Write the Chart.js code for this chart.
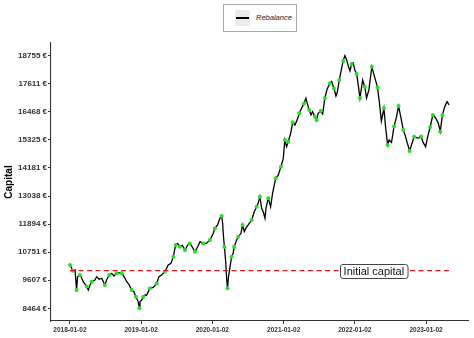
<!DOCTYPE html>
<html>
<head>
<meta charset="utf-8">
<script src="https://cdn.jsdelivr.net/npm/chart.js@4/dist/chart.umd.min.js"></script>
<style>
  body { margin: 0; background: #fff; font-family: "Liberation Sans", Arial, sans-serif; }
  #wrap { position: relative; width: 474px; height: 338px; }
  #legend {
    position: absolute; left: 223px; top: 4px; width: 72px; height: 26px;
    border: 1px solid #a8a8a8; background: #fff; box-sizing: content-box;
  }
  #legend .key {
    position: absolute; left: 11px; top: 5px; width: 15px; height: 16px; background: #ebebeb;
  }
  #legend .key::after {
    content: ""; position: absolute; left: 1px; right: 1px; top: 7px; height: 1.5px; background: #000;
  }
  #legend .txt {
    position: absolute; left: 32px; top: 8px; font-size: 7.5px; font-style: italic; color: #1a1a1a;
    line-height: 10px;
  }
</style>
</head>
<body>
<div id="wrap">
  <canvas id="myChart" width="474" height="338"></canvas>
  <div id="legend"><div class="key"></div><div class="txt">Rebalance</div></div>
</div>
<script>
'use strict';

// portfolio value, sampled roughly every two weeks
let dates = [
  '2018-01-02','2018-01-07','2018-01-16','2018-01-28','2018-02-05','2018-02-10','2018-02-22','2018-03-03',
  '2018-03-11','2018-03-29','2018-04-06','2018-04-15','2018-04-23','2018-05-10','2018-05-19','2018-06-01',
  '2018-06-14','2018-06-30','2018-07-09','2018-07-22','2018-08-04','2018-08-16','2018-08-29','2018-09-12',
  '2018-09-24','2018-10-07','2018-10-20','2018-11-02','2018-11-14','2018-11-26','2018-12-06','2018-12-18',
  '2018-12-24','2018-12-27','2019-01-05','2019-01-13','2019-01-22','2019-01-30','2019-02-16','2019-03-05',
  '2019-03-23','2019-04-03','2019-04-17','2019-05-04','2019-05-21','2019-06-04','2019-06-16','2019-06-28',
  '2019-07-08','2019-07-20','2019-08-01','2019-08-15','2019-08-28','2019-09-09','2019-09-21','2019-10-05',
  '2019-10-19','2019-10-31','2019-11-16','2019-12-04','2019-12-21','2020-01-07','2020-01-15','2020-01-29',
  '2020-02-10','2020-02-19','2020-02-24','2020-02-27','2020-03-04','2020-03-10','2020-03-16','2020-03-20',
  '2020-03-25','2020-04-01','2020-04-10','2020-04-18','2020-04-23','2020-05-06','2020-05-14','2020-05-28',
  '2020-06-05','2020-06-14','2020-06-22','2020-07-04','2020-07-22','2020-08-04','2020-08-16','2020-08-24',
  '2020-09-02','2020-09-11','2020-09-19','2020-09-28','2020-10-03','2020-10-15','2020-10-27','2020-11-06',
  '2020-11-22','2020-12-05','2020-12-19','2020-12-31','2021-01-08','2021-01-17','2021-01-25','2021-02-07',
  '2021-02-17','2021-03-01','2021-03-12','2021-03-23','2021-04-04','2021-04-16','2021-04-26','2021-05-03',
  '2021-05-13','2021-05-22','2021-05-30','2021-06-11','2021-06-20','2021-06-28','2021-07-10','2021-07-21',
  '2021-08-01','2021-08-13','2021-08-27','2021-09-05','2021-09-17','2021-09-27','2021-10-04','2021-10-14',
  '2021-10-26','2021-11-03','2021-11-12','2021-11-21','2021-11-29','2021-12-08','2021-12-16','2021-12-24',
  '2022-01-02','2022-01-11','2022-01-20','2022-01-28','2022-02-11','2022-02-22','2022-03-03','2022-03-15',
  '2022-03-30','2022-04-15','2022-04-28','2022-05-08','2022-05-18','2022-05-31','2022-06-08','2022-06-19',
  '2022-06-27','2022-07-09','2022-07-22','2022-08-04','2022-08-14','2022-08-26','2022-09-07','2022-09-18',
  '2022-09-28','2022-10-10','2022-10-21','2022-11-02','2022-11-15','2022-11-26','2022-12-08','2022-12-18',
  '2022-12-31','2023-01-10','2023-01-23','2023-02-06','2023-02-20','2023-03-06','2023-03-16','2023-03-27',
  '2023-04-09','2023-04-20','2023-04-30'
];

let capital = [
  10230,10160,10000,10030,9210,9750,9820,9700,
  9550,9350,9210,9420,9550,9620,9750,9650,
  9690,9420,9620,9820,9890,9780,9890,9920,
  9890,9750,9550,9420,9210,9140,8940,8740,
  8464,8740,8800,8940,9010,9000,9280,9320,
  9480,9750,9820,9960,10230,10300,10570,11040,
  11110,10970,11040,10840,11040,11110,10970,10770,
  10970,11180,11110,11120,11250,11520,11720,11860,
  12130,12230,11930,11520,10970,10430,9620,9280,
  9750,10100,10570,10710,10970,11250,11380,11520,
  11860,11590,11720,11860,12060,12400,12600,12740,
  13010,12540,12400,12130,12540,12950,12600,13150,
  13760,13890,14230,14570,15320,15050,15250,15590,
  16040,15930,16130,16410,16610,16810,17020,16810,
  16540,16340,16470,16270,16130,16410,16500,16380,
  17020,17400,17630,17700,17420,17110,17270,17760,
  18240,18540,18755,18580,18330,18130,18410,18460,
  18170,18010,17520,17030,17760,17480,17030,17360,
  18300,17840,17460,16830,16090,16610,15890,15120,
  15320,15220,15870,16280,16700,16240,15730,15480,
  15190,14870,15160,15450,15420,15400,15460,15220,
  15050,15440,15850,16340,16220,16000,15660,16340,
  16700,16880,16750
];

let rebalanceDates = [
  '2018-01-02','2018-01-16','2018-02-05','2018-02-22','2018-03-29','2018-04-23','2018-06-30','2018-07-22',
  '2018-08-29','2018-09-24','2018-11-14','2018-12-06','2018-12-24','2019-01-13','2019-02-16','2019-03-23',
  '2019-05-04','2019-06-16','2019-06-28','2019-07-20','2019-08-15','2019-09-09','2019-10-05','2019-11-16',
  '2019-12-21','2020-01-15','2020-02-19','2020-03-04','2020-03-20','2020-04-10','2020-04-23','2020-05-14',
  '2020-06-05','2020-07-22','2020-08-16','2020-09-02','2020-10-15','2020-11-22','2020-12-19','2021-01-08',
  '2021-01-25','2021-02-17','2021-03-23','2021-04-16','2021-05-13','2021-06-11','2021-06-20','2021-07-10',
  '2021-08-01','2021-08-27','2021-09-17','2021-10-14','2021-11-03','2021-12-16','2022-01-11','2022-01-28',
  '2022-02-22','2022-03-30','2022-04-28','2022-05-31','2022-06-19','2022-07-22','2022-08-14','2022-09-07',
  '2022-10-10','2022-11-02','2022-12-08','2023-01-23','2023-02-06','2023-03-16','2023-03-27'
];

let yTicks = [8464, 9607, 10751, 11894, 13038, 14181, 15325, 16468, 17611, 18755];
let xTicks = ['2018-01-02', '2019-01-02', '2020-01-02', '2021-01-02', '2022-01-02', '2023-01-02'];

let initialCapital = 10000;
let initialLabel = 'Initial capital';
let initialLabelDate = '2022-04-07';

function createChart() {

    let pts = dates.map((d, i) => ({ x: Date.parse(d), y: capital[i] }));
    let rebal = rebalanceDates.map(d => ({ x: Date.parse(d), y: capital[dates.indexOf(d)] }));

    // 5% expansion on both axes
    let x0 = pts[0].x, x1 = pts[pts.length - 1].x;
    let xPad = (x1 - x0) * 0.05;
    let y0 = yTicks[0], y1 = yTicks[yTicks.length - 1];
    let yPad = (y1 - y0) * 0.05;

    // boxed label sitting on the dashed line
    let hlineLabel = {
        id: 'hlineLabel',
        afterDatasetsDraw(chart) {
            let ctx = chart.ctx;
            let cx = chart.scales.x.getPixelForValue(Date.parse(initialLabelDate));
            let cy = chart.scales.y.getPixelForValue(initialCapital);
            ctx.save();
            ctx.font = '11px "Liberation Sans", Arial, sans-serif';
            let w = ctx.measureText(initialLabel).width + 7;
            let h = 14;
            ctx.beginPath();
            ctx.roundRect(Math.round(cx - w / 2) + 0.5, Math.round(cy - h / 2) + 0.5, w, h, 2.5);
            ctx.fillStyle = '#fff';
            ctx.fill();
            ctx.strokeStyle = '#444';
            ctx.lineWidth = 1;
            ctx.stroke();
            ctx.fillStyle = '#111';
            ctx.textAlign = 'center';
            ctx.textBaseline = 'middle';
            ctx.fillText(initialLabel, cx + 0.5, cy + 1);
            ctx.restore();
        }
    };

    let ctx = document.getElementById('myChart').getContext('2d');

    // first dataset is drawn top-most
    let myChart = new Chart(ctx, {
        type: 'line',
        data: {
            datasets: [
                {
                    label: 'Initial capital',
                    data: [{ x: x0, y: initialCapital }, { x: x1, y: initialCapital }],
                    borderColor: '#e41a1c',
                    borderWidth: 1.3,
                    borderDash: [5, 3.5],
                    pointRadius: 0
                },
                {
                    label: 'Rebalance points',
                    data: rebal,
                    showLine: false,
                    pointRadius: 2,
                    pointBorderWidth: 0,
                    pointBackgroundColor: '#22e022'
                },
                {
                    label: 'Rebalance',
                    data: pts,
                    borderColor: '#000',
                    borderWidth: 1.3,
                    pointRadius: 0,
                    tension: 0
                }
            ]
        },
        options: {
            responsive: false,
            animation: false,
            events: [],
            layout: { padding: { top: 43, right: 6, left: 0, bottom: 0 } },
            plugins: {
                legend: { display: false },
                tooltip: { enabled: false }
            },
            scales: {
                x: {
                    type: 'linear',
                    min: x0 - xPad,
                    max: x1 + xPad,
                    afterBuildTicks: s => { s.ticks = xTicks.map(d => ({ value: Date.parse(d) })); },
                    afterFit: s => { s.height = 17; },
                    ticks: {
                        callback: v => new Date(v).toISOString().slice(0, 10),
                        font: { size: 6.5, weight: 'bold', family: '"Liberation Sans", Arial, sans-serif' },
                        color: '#333',
                        maxRotation: 0,
                        autoSkip: false,
                        padding: 2
                    },
                    grid: { drawOnChartArea: false, tickLength: 3, color: '#333' },
                    border: { color: '#333', width: 1.1 }
                },
                y: {
                    type: 'linear',
                    min: y0 - yPad,
                    max: y1 + yPad,
                    afterBuildTicks: s => { s.ticks = yTicks.map(v => ({ value: v })); },
                    afterFit: s => { s.width = 51; },
                    ticks: {
                        callback: v => v + ' €',
                        font: { size: 8, weight: 'bold', family: '"Liberation Sans", Arial, sans-serif' },
                        color: '#333',
                        autoSkip: false,
                        padding: 1
                    },
                    title: {
                        display: true,
                        text: 'Capital',
                        font: { size: 10, weight: 'bold', family: '"Liberation Sans", Arial, sans-serif' },
                        color: '#000',
                        padding: { top: 3, bottom: 0 }
                    },
                    grid: { drawOnChartArea: false, tickLength: 3, color: '#333' },
                    border: { color: '#333', width: 1.1 }
                }
            }
        },
        plugins: [hlineLabel]
    });
}

createChart()
</script>
</body>
</html>
